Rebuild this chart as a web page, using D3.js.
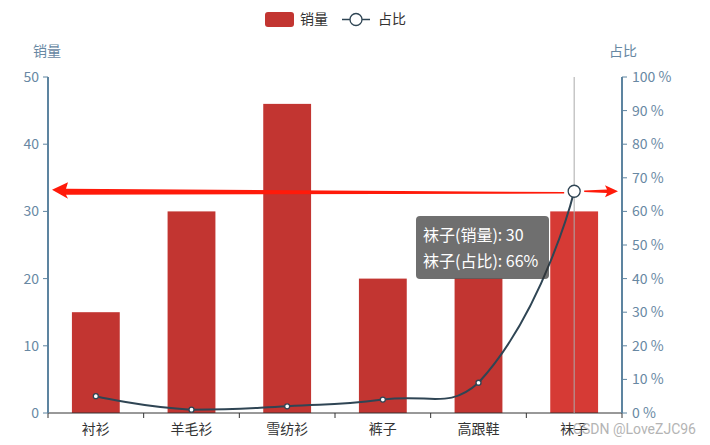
<!DOCTYPE html>
<html>
<head>
<meta charset="utf-8">
<script src="https://cdn.jsdelivr.net/npm/d3@7/dist/d3.min.js"></script>
<style>
  body { margin: 0; background: #fff; }
  svg { display: block; font-family: "Noto Sans CJK SC", "Noto Sans", sans-serif; }
</style>
</head>
<body>
<div class="chart"></div>
<script>
var categories = ["衬衫", "羊毛衫", "雪纺衫", "裤子", "高跟鞋", "袜子"];
var sales = [15, 30, 46, 20, 20, 30];
var ratio = [5, 1, 2, 4, 9, 66];
var salesTicks = [0, 10, 20, 30, 40, 50];
var ratioTicks = [0, 10, 20, 30, 40, 50, 60, 70, 80, 90, 100];
var hoverIndex = 5;

var w = 710, h = 445;
var gLeft = 48, gRight = 622, gTop = 77, gBottom = 413;
var axisColor = "#5d84a0", labelColor = "#6888a3";
var barColor = "#c23531", barHover = "#d63a35", lineColor = "#2f4554";

var svg = d3.select(".chart").append("svg")
    .attr("width", w)
    .attr("height", h);

var x = d3.scaleBand().domain(categories).range([gLeft, gRight]).padding(0);
var yL = d3.scaleLinear().domain([0, 50]).range([gBottom, gTop]);
var yR = d3.scaleLinear().domain([0, 100]).range([gBottom, gTop]);

// bars
var bw = x.bandwidth() * 0.5;
svg.selectAll("rect.bar").data(sales).enter().append("rect")
    .attr("class", "bar")
    .attr("x", function(d, i) { return x(categories[i]) + (x.bandwidth() - bw) / 2; })
    .attr("y", function(d) { return yL(d); })
    .attr("width", bw)
    .attr("height", function(d) { return gBottom - yL(d); })
    .attr("fill", function(d, i) { return i == hoverIndex ? barHover : barColor; });

// x axis
var xAxis = svg.append("g").attr("transform", "translate(0," + gBottom + ")");
xAxis.append("line").attr("x1", gLeft).attr("x2", gRight).attr("stroke", "#333");
var bounds = categories.map(function(c) { return x(c); }).concat([gRight]);
xAxis.selectAll("line.tk").data(bounds).enter().append("line")
    .attr("class", "tk")
    .attr("x1", function(d) { return d; }).attr("x2", function(d) { return d; })
    .attr("y1", 0).attr("y2", 5).attr("stroke", "#333");
xAxis.selectAll("text").data(categories).enter().append("text")
    .attr("x", function(d) { return x(d) + x.bandwidth() / 2; })
    .attr("y", 21)
    .attr("text-anchor", "middle")
    .attr("font-size", 14)
    .attr("fill", "#333")
    .text(function(d) { return d; });

// left axis
var gl = svg.append("g");
gl.append("line").attr("x1", gLeft).attr("x2", gLeft).attr("y1", gTop).attr("y2", gBottom)
    .attr("stroke", axisColor).attr("stroke-width", 2);
gl.selectAll("line.tk").data(salesTicks).enter().append("line")
    .attr("class", "tk")
    .attr("x1", gLeft - 5).attr("x2", gLeft)
    .attr("y1", function(d) { return yL(d); }).attr("y2", function(d) { return yL(d); })
    .attr("stroke", axisColor);
gl.selectAll("text").data(salesTicks).enter().append("text")
    .attr("x", gLeft - 9)
    .attr("y", function(d) { return yL(d) + 5; })
    .attr("text-anchor", "end")
    .attr("font-size", 14)
    .attr("fill", labelColor)
    .text(function(d) { return d; });
svg.append("text").attr("x", gLeft - 1).attr("y", 56).attr("text-anchor", "middle")
    .attr("font-size", 14).attr("fill", labelColor).text("销量");

// right axis
var gr = svg.append("g");
gr.append("line").attr("x1", gRight).attr("x2", gRight).attr("y1", gTop).attr("y2", gBottom)
    .attr("stroke", axisColor).attr("stroke-width", 2);
gr.selectAll("line.tk").data(ratioTicks).enter().append("line")
    .attr("class", "tk")
    .attr("x1", gRight).attr("x2", gRight + 5)
    .attr("y1", function(d) { return yR(d); }).attr("y2", function(d) { return yR(d); })
    .attr("stroke", axisColor);
gr.selectAll("text").data(ratioTicks).enter().append("text")
    .attr("x", gRight + 10)
    .attr("y", function(d) { return yR(d) + 5; })
    .attr("font-size", 14)
    .attr("fill", labelColor)
    .attr("xml:space", "preserve")
    .text(function(d) { return d + " %"; });
svg.append("text").attr("x", gRight + 1).attr("y", 56).attr("text-anchor", "middle")
    .attr("font-size", 14).attr("fill", labelColor).text("占比");

// axis pointer
var hx = x(categories[hoverIndex]) + x.bandwidth() / 2;
svg.append("line").attr("x1", hx).attr("x2", hx).attr("y1", gTop).attr("y2", gBottom)
    .attr("stroke", "#aaa").attr("stroke-width", 1);

// smooth line, echarts style bezier with bbox constraint
var pts = ratio.map(function(d, i) { return [x(categories[i]) + x.bandwidth() / 2, yR(d)]; });
function smoothLine(p, s) {
  var minX = d3.min(p, function(d) { return d[0]; }), maxX = d3.max(p, function(d) { return d[0]; });
  var minY = d3.min(p, function(d) { return d[1]; }), maxY = d3.max(p, function(d) { return d[1]; });
  var cps = [];
  p.forEach(function(pt, i) {
    if (i == 0 || i == p.length - 1) { cps.push([pt[0], pt[1]], [pt[0], pt[1]]); return; }
    var pr = p[i - 1], nx = p[i + 1];
    var vx = (nx[0] - pr[0]) * s, vy = (nx[1] - pr[1]) * s;
    var d0 = Math.hypot(pt[0] - pr[0], pt[1] - pr[1]), d1 = Math.hypot(pt[0] - nx[0], pt[1] - nx[1]);
    var sum = d0 + d1; d0 /= sum; d1 /= sum;
    var c0 = [pt[0] - vx * d0, pt[1] - vy * d0], c1 = [pt[0] + vx * d1, pt[1] + vy * d1];
    [c0, c1].forEach(function(c) {
      c[0] = Math.max(minX, Math.min(maxX, c[0]));
      c[1] = Math.max(minY, Math.min(maxY, c[1]));
    });
    cps.push(c0, c1);
  });
  var path = d3.path();
  path.moveTo(p[0][0], p[0][1]);
  for (var i = 0; i < p.length - 1; i++) {
    var a = cps[2 * i + 1], b = cps[2 * i + 2];
    path.bezierCurveTo(a[0], a[1], b[0], b[1], p[i + 1][0], p[i + 1][1]);
  }
  return path.toString();
}
svg.append("path").attr("d", smoothLine(pts, 0.5))
    .attr("fill", "none").attr("stroke", lineColor).attr("stroke-width", 2);
svg.selectAll("circle.pt").data(pts).enter().append("circle")
    .attr("class", "pt")
    .attr("cx", function(d) { return d[0]; })
    .attr("cy", function(d) { return d[1]; })
    .attr("r", function(d, i) { return i == hoverIndex ? 6 : 2.5; })
    .attr("fill", "#fff")
    .attr("stroke", lineColor)
    .attr("stroke-width", 1.3);

// legend
var lg = svg.append("g");
lg.append("rect").attr("x", 265).attr("y", 12).attr("width", 29).attr("height", 15).attr("rx", 3)
    .attr("fill", barColor);
lg.append("text").attr("x", 300).attr("y", 24).attr("font-size", 14).attr("fill", "#333").text("销量");
lg.append("line").attr("x1", 342).attr("x2", 370).attr("y1", 19.5).attr("y2", 19.5)
    .attr("stroke", lineColor).attr("stroke-width", 1.5);
lg.append("circle").attr("cx", 356).attr("cy", 19.5).attr("r", 6).attr("fill", "#fff")
    .attr("stroke", lineColor).attr("stroke-width", 1.3);
lg.append("text").attr("x", 378).attr("y", 24).attr("font-size", 14).attr("fill", "#333").text("占比");

// red annotation arrows (hand drawn in the screenshot)
var ay = pts[hoverIndex][1];
svg.append("path")
    .attr("d", "M" + (hx - 10) + "," + (ay + 0.8) + "L" + (gLeft + 18) + "," + (ay - 2.5) +
      "L" + (gLeft + 20) + "," + (ay - 9) + "L" + (gLeft + 4) + "," + (ay - 1.5) +
      "L" + (gLeft + 20) + "," + (ay + 7.5) + "L" + (gLeft + 18) + "," + (ay + 3.5) +
      "L" + (hx - 10) + "," + (ay + 2.3) + "Z")
    .attr("fill", "#ff1a0a");
svg.append("path")
    .attr("d", "M" + (hx + 10) + "," + (ay - 0.8) + "L" + (gRight - 15) + "," + (ay - 1.8) +
      "L" + (gRight - 17) + "," + (ay - 6) + "L" + (gRight - 4) + "," + ay +
      "L" + (gRight - 17) + "," + (ay + 6) + "L" + (gRight - 15) + "," + (ay + 1.8) +
      "L" + (hx + 10) + "," + (ay + 0.8) + "Z")
    .attr("fill", "#ff1a0a");

// tooltip
var tip = svg.append("g").attr("transform", "translate(416,216)");
tip.append("rect").attr("width", 133).attr("height", 63).attr("rx", 4)
    .attr("fill", "rgba(50,50,50,0.7)");
tip.append("text").attr("x", 7).attr("y", 25).attr("font-size", 16).attr("fill", "#fff")
    .text(categories[hoverIndex] + "(销量): " + sales[hoverIndex]);
tip.append("text").attr("x", 7).attr("y", 51).attr("font-size", 16).attr("fill", "#fff")
    .text(categories[hoverIndex] + "(占比): " + ratio[hoverIndex] + "%");

// watermark
svg.append("text").attr("x", 696).attr("y", 434).attr("text-anchor", "end")
    .attr("font-size", 14).attr("fill", "#b4b4b4").attr("font-family", "Roboto, sans-serif")
    .text("CSDN @LoveZJC96");
</script>
</body>
</html>
